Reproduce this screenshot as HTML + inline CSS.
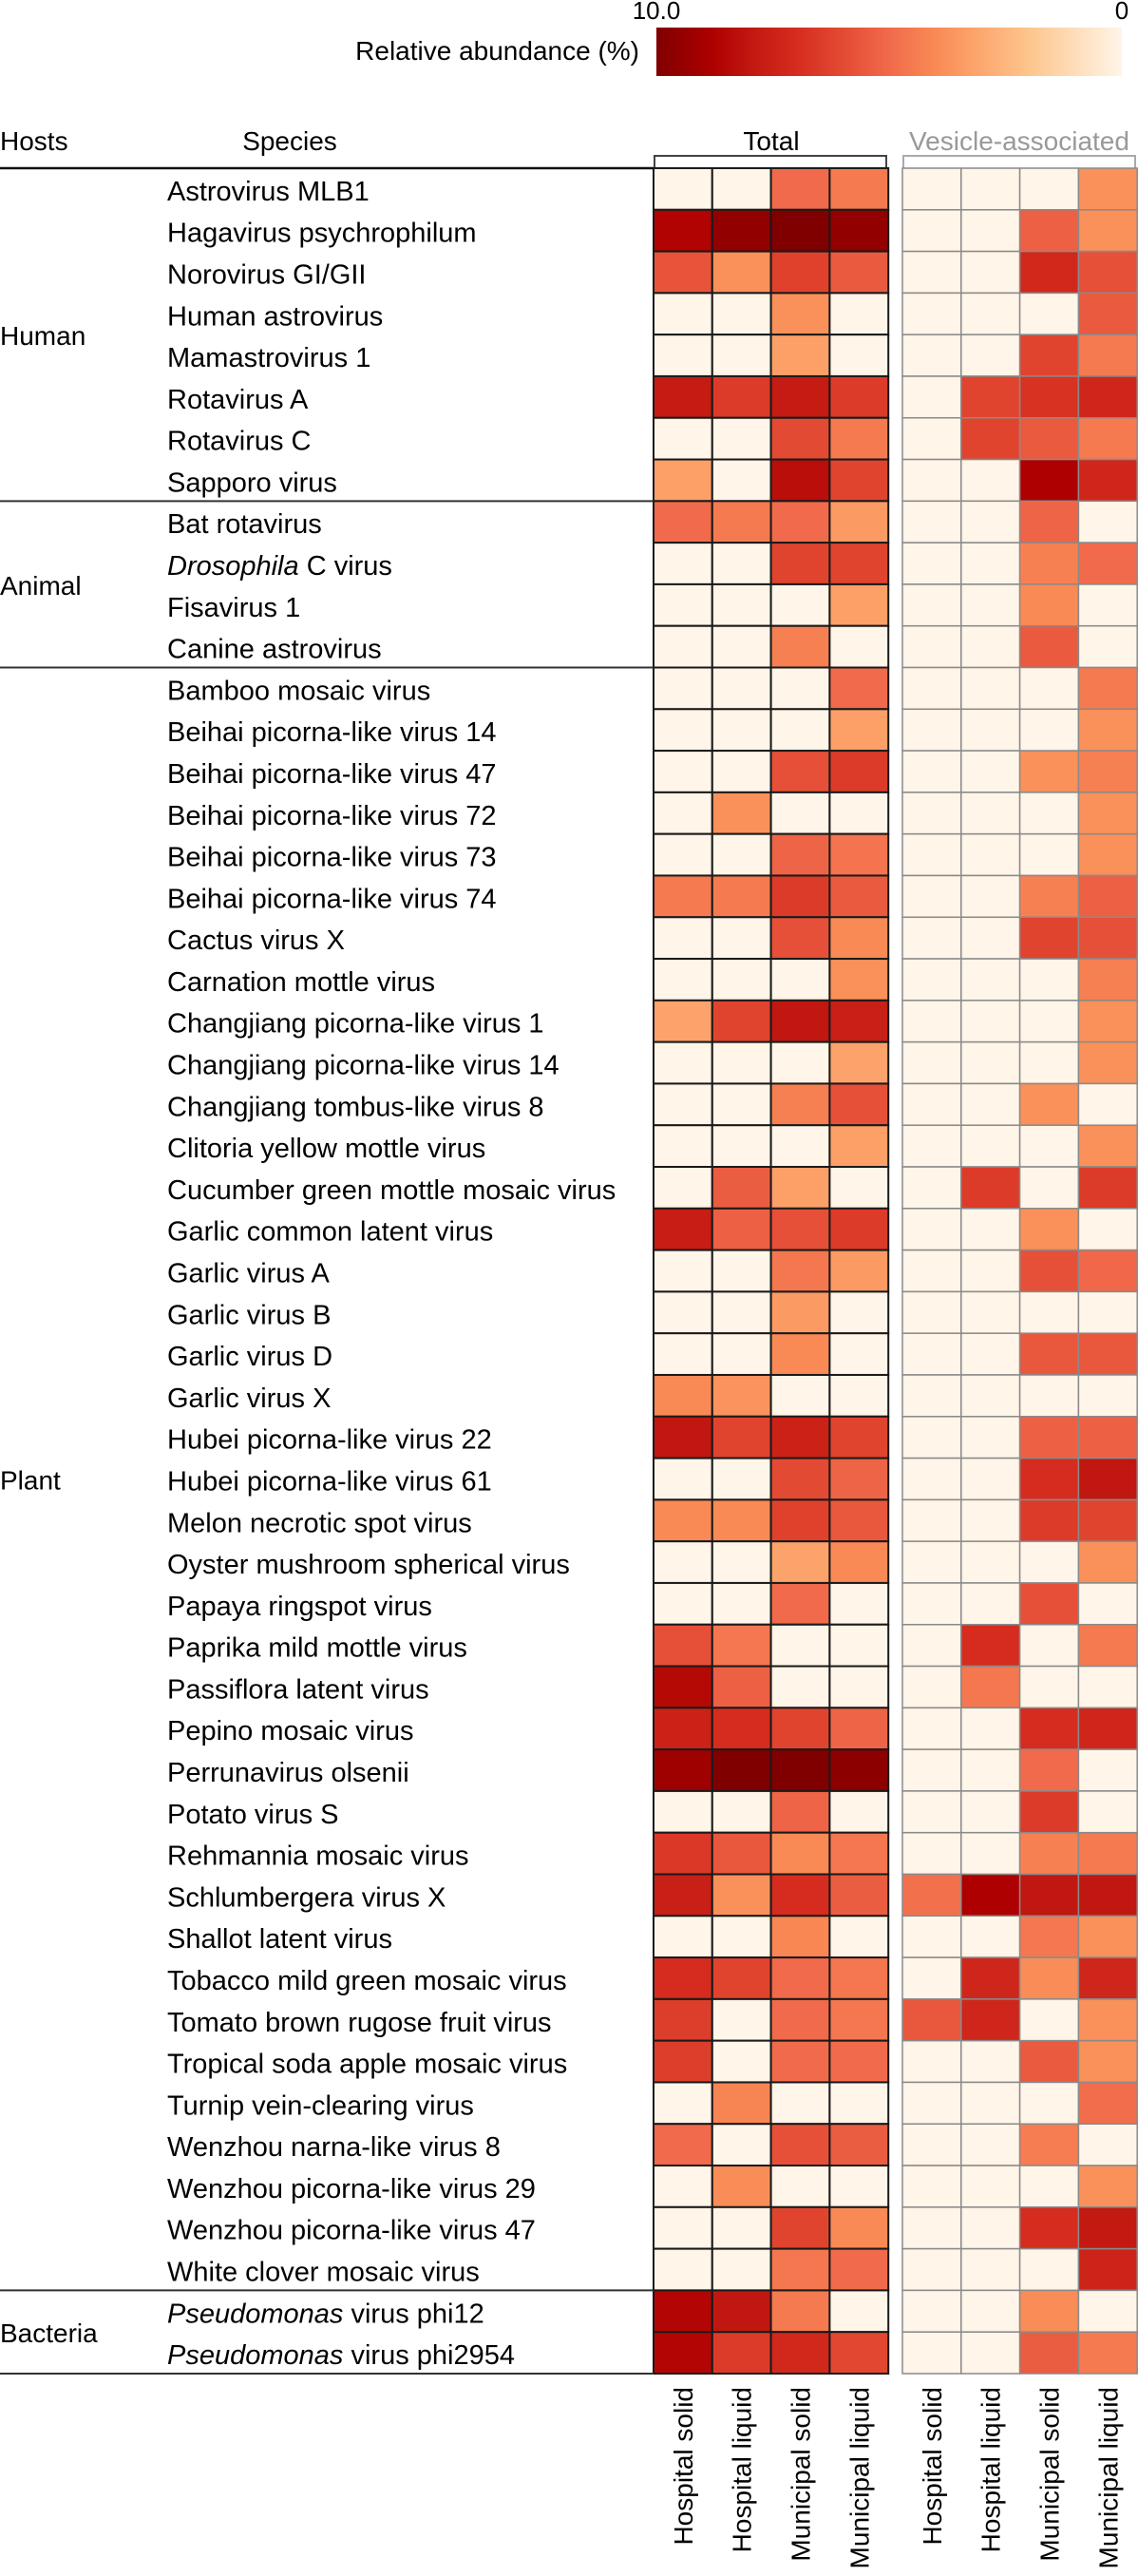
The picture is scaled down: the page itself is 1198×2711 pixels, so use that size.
<!DOCTYPE html>
<html><head><meta charset="utf-8"><style>
body{margin:0;background:#fff;}
svg{display:block;font-family:"Liberation Sans",sans-serif;}
</style></head><body>
<svg id="chart" width="1198" height="2711" viewBox="0 0 1198 2711" xmlns="http://www.w3.org/2000/svg">
<defs><linearGradient id="cb" x1="0" x2="1" y1="0" y2="0">
<stop offset="0" stop-color="#800000"/><stop offset="0.12" stop-color="#ae0000"/><stop offset="0.2" stop-color="#c01710"/><stop offset="0.3" stop-color="#d52c1f"/><stop offset="0.4" stop-color="#e34a33"/><stop offset="0.5" stop-color="#f16a4b"/><stop offset="0.6" stop-color="#f98a55"/><stop offset="0.67" stop-color="#fca068"/><stop offset="0.8" stop-color="#fdc58c"/><stop offset="1" stop-color="#fff5e8"/></linearGradient></defs>
<g>
<text x="673" y="63" font-size="28" text-anchor="end">Relative abundance (%)</text>
<rect x="691" y="29" width="490" height="51" fill="url(#cb)"/>
<text x="691" y="20" font-size="26" text-anchor="middle">10.0</text>
<text x="1181" y="20" font-size="26" text-anchor="middle">0</text>
</g>
<text x="0" y="158" font-size="28">Hosts</text>
<text x="305" y="158" font-size="28" text-anchor="middle">Species</text>
<text x="812" y="158" font-size="28" text-anchor="middle">Total</text>
<text x="1073" y="158" font-size="28" fill="#999" text-anchor="middle">Vesicle-associated</text>
<path d="M689 177V164H933V177" fill="none" stroke="#444" stroke-width="2"/>
<path d="M951 177V164H1195V177" fill="none" stroke="#aaa" stroke-width="2"/>
<g id="cells"></g><g id="labels"></g>
</svg>
<script>
const species=["Astrovirus MLB1","Hagavirus psychrophilum","Norovirus GI/GII","Human astrovirus","Mamastrovirus 1","Rotavirus A","Rotavirus C","Sapporo virus","Bat rotavirus","*Drosophila* C virus","Fisavirus 1","Canine astrovirus","Bamboo mosaic virus","Beihai picorna-like virus 14","Beihai picorna-like virus 47","Beihai picorna-like virus 72","Beihai picorna-like virus 73","Beihai picorna-like virus 74","Cactus virus X","Carnation mottle virus","Changjiang picorna-like virus 1","Changjiang picorna-like virus 14","Changjiang tombus-like virus 8","Clitoria yellow mottle virus","Cucumber green mottle mosaic virus","Garlic common latent virus","Garlic virus A","Garlic virus B","Garlic virus D","Garlic virus X","Hubei picorna-like virus 22","Hubei picorna-like virus 61","Melon necrotic spot virus","Oyster mushroom spherical virus","Papaya ringspot virus","Paprika mild mottle virus","Passiflora latent virus","Pepino mosaic virus","Perrunavirus olsenii","Potato virus S","Rehmannia mosaic virus","Schlumbergera virus X","Shallot latent virus","Tobacco mild green mosaic virus","Tomato brown rugose fruit virus","Tropical soda apple mosaic virus","Turnip vein-clearing virus","Wenzhou narna-like virus 8","Wenzhou picorna-like virus 29","Wenzhou picorna-like virus 47","White clover mosaic virus","*Pseudomonas* virus phi12","*Pseudomonas* virus phi2954"];
const hosts=["Human","Animal","Plant","Bacteria"];
const hostCounts=[8,4,39,2];
const columns=["Hospital solid","Hospital liquid","Municipal solid","Municipal liquid"];
const totalValues=[[0,0,5,4.5],[8.7,9.5,10,9.5],[5.7,3.8,6.3,5.5],[0,0,3.8,0],[0,0,3.3,0],[7.8,6.5,7.8,6.5],[0,0,6,4.5],[3.3,0,8.3,6.2],[5,4.5,5,3.5],[0,0,6.2,6.2],[0,0,0,3.3],[0,0,4.3,0],[0,0,0,5],[0,0,0,3.3],[0,0,5.8,6.5],[0,3.8,0,0],[0,0,5.2,4.7],[4.5,4.5,6.5,5.5],[0,0,5.8,4],[0,0,0,3.8],[3.2,6.2,8,7.6],[0,0,0,3.2],[0,0,4.3,5.8],[0,0,0,3.3],[0,5.4,3.3,0],[7.7,5.3,5.8,6.5],[0,0,4.6,3.5],[0,0,3.5,0],[0,0,4,0],[4,3.7,0,0],[8,6.2,7.5,6.2],[0,0,6,5.2],[4,4,6.3,5.6],[0,0,3.2,4],[0,0,5,0],[5.8,4.6,0,0],[8.5,5.3,0,0],[7.5,7,6.2,5.2],[9.2,10,10,9.7],[0,0,5.2,0],[6.6,5.6,4,4.6],[7.6,3.8,7,5.4],[0,0,4.1,0],[7,6.2,5,4.6],[6.4,0,5,4.6],[6.4,0,5,5],[0,4.2,0,0],[5,0,5.8,5.4],[0,3.9,0,0],[0,0,6.2,4],[0,0,4.6,5],[8.6,8,4.5,0],[8.6,6.5,7.2,6.1]];
const vesicleValues=[[0,0,0,3.8],[0,0,5.3,3.8],[0,0,7.2,5.8],[0,0,0,5.5],[0,0,6.2,4.5],[0,6.2,6.8,7.3],[0,6.2,5.5,4.5],[0,0,8.8,7.3],[0,0,5.2,0],[0,0,4.3,5],[0,0,4,0],[0,0,5.5,0],[0,0,0,4.5],[0,0,0,3.8],[0,0,3.8,4.3],[0,0,0,3.8],[0,0,0,3.8],[0,0,4.3,5.3],[0,0,6.2,5.8],[0,0,0,4.3],[0,0,0,3.8],[0,0,0,3.8],[0,0,3.8,0],[0,0,0,3.8],[0,6.5,0,6.5],[0,0,3.8,0],[0,0,5.8,5.1],[0,0,0,0],[0,0,5.6,5.6],[0,0,0,0],[0,0,5.3,5.3],[0,0,7,8],[0,0,6.5,6.2],[0,0,0,3.8],[0,0,5.8,0],[0,7,0,4.5],[0,4.6,0,0],[0,0,7,7.3],[0,0,5,0],[0,0,6.5,0],[0,0,4.3,4.5],[4.8,8.8,8,8],[0,0,4.6,3.8],[0,7.3,3.9,7.3],[5.6,7.3,0,3.8],[0,0,5.5,3.8],[0,0,0,4.9],[0,0,4.4,0],[0,0,0,3.8],[0,0,7,7.9],[0,0,0,7.4],[0,0,3.9,0],[0,0,5.4,4.5]];

const NS="http://www.w3.org/2000/svg";
const top0=177,bottom0=2498,rowH=(bottom0-top0)/species.length;
const totalX0=688,vesX0=950,colW=61.8;
const y=i=>top0+i*rowH;
const stops=[[0,"#fff5e8"],[2,"#fdc58c"],[3.3,"#fca068"],[4,"#f98a55"],[5,"#f16a4b"],[6,"#e34a33"],[7,"#d52c1f"],[8,"#c01710"],[8.8,"#ae0000"],[10,"#800000"]];
function hx(c){return [1,3,5].map(k=>parseInt(c.substr(k,2),16));}
function color(v){if(v<=0)return stops[0][1];for(let k=1;k<stops.length;k++){if(v<=stops[k][0]){const a=stops[k-1],b=stops[k];const t=(v-a[0])/(b[0]-a[0]);const ca=hx(a[1]),cb=hx(b[1]);return "rgb("+ca.map((q,j)=>Math.round(q+(cb[j]-q)*t)).join(",")+")";}}return stops[stops.length-1][1];}
const cells=document.getElementById("cells"),labels=document.getElementById("labels");
function drawPanel(vals,x0,stroke,sw,name){
 vals.forEach((row,i)=>row.forEach((v,j)=>{
  const r=document.createElementNS(NS,"rect");
  r.setAttribute("x",x0+j*colW);r.setAttribute("y",y(i));r.setAttribute("width",colW);r.setAttribute("height",rowH);
  r.setAttribute("fill",color(v));r.setAttribute("stroke",stroke);r.setAttribute("stroke-width",sw);
  
  
  cells.appendChild(r);
 }));
 columns.forEach((c,j)=>{
  const t=document.createElementNS(NS,"text");
  const cx=x0+(j+0.5)*colW+10,ty=2512;
  t.setAttribute("x",cx);t.setAttribute("y",ty);t.setAttribute("font-size","28");t.setAttribute("text-anchor","end");
  t.setAttribute("transform","rotate(-90 "+cx+" "+ty+")");t.textContent=c;
  
  
  labels.appendChild(t);
 });
}
drawPanel(totalValues,totalX0,"#1a1a1a",2,"total");
drawPanel(vesicleValues,vesX0,"#8a8a8a",1.5,"vesicle");
species.forEach((s,i)=>{
 const t=document.createElementNS(NS,"text");
 t.setAttribute("x",176);t.setAttribute("y",y(i)+rowH/2+12);t.setAttribute("font-size","29");
 s.split("*").forEach((part,k)=>{
  if(!part)return;
  const sp=document.createElementNS(NS,"tspan");
  if(k%2===1)sp.setAttribute("font-style","italic");
  sp.textContent=part;
  t.appendChild(sp);
 });
 
 
 labels.appendChild(t);
});
let acc=0;
hosts.forEach((h,k)=>{
 const n=hostCounts[k];
 const t=document.createElementNS(NS,"text");
 t.setAttribute("x",0);t.setAttribute("y",y(acc+n/2)+11);t.setAttribute("font-size","28");t.textContent=h;
 
 
 labels.appendChild(t);
 acc+=n;
 const l=document.createElementNS(NS,"line");
 l.setAttribute("x1",0);l.setAttribute("x2",688);l.setAttribute("y1",y(acc));l.setAttribute("y2",y(acc));
 l.setAttribute("stroke","#333");l.setAttribute("stroke-width",2);
 
 
 labels.appendChild(l);
});
const hl=document.createElementNS(NS,"line");
hl.setAttribute("x1",0);hl.setAttribute("x2",688);hl.setAttribute("y1",top0);hl.setAttribute("y2",top0);
hl.setAttribute("stroke","#111");hl.setAttribute("stroke-width",2.5);


labels.appendChild(hl);
</script>
</body></html>
